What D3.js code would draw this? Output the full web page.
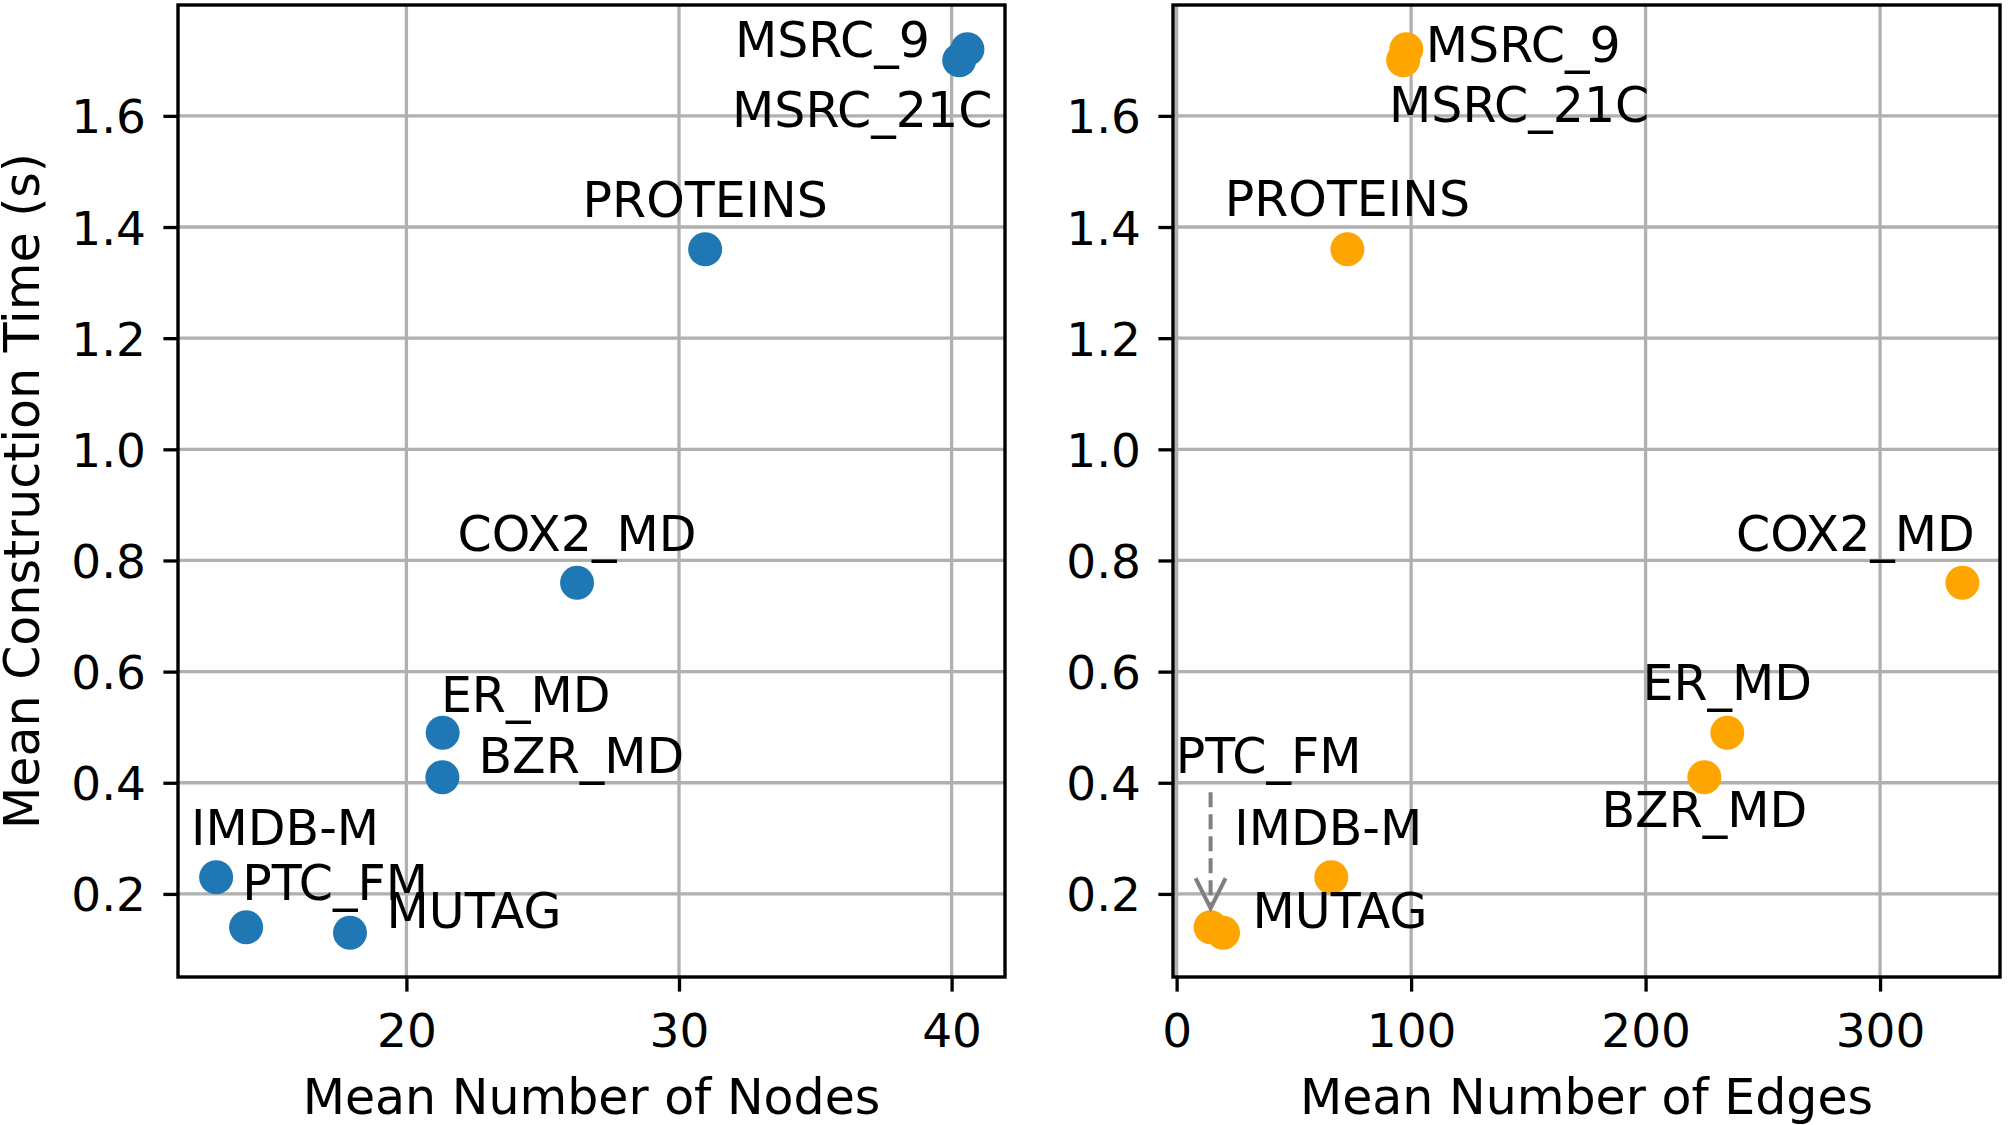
<!DOCTYPE html>
<html>
<head>
<meta charset="utf-8">
<script src="https://cdn.jsdelivr.net/npm/d3@7"></script>
<style>
    body { margin: 0; background: #fff; }
    svg { display: block; font-family: "DejaVu Sans", sans-serif; }
    .domain { display: none; }
</style>
</head>
<body>
<div id="chart"></div>
<script>
// data
var datasets = ["MSRC_9", "MSRC_21C", "PROTEINS", "COX2_MD", "ER_MD", "BZR_MD", "IMDB-M", "PTC_FM", "MUTAG"];
var meanNodes = [40.58, 40.28, 30.96, 26.26, 21.33, 21.32, 13.02, 14.12, 17.93];
var meanEdges = [97.94, 96.6, 72.82, 335.12, 234.85, 225.06, 65.94, 14.48, 19.79];
var meanTime = [1.72, 1.70, 1.36, 0.76, 0.49, 0.41, 0.23, 0.14, 0.13];

var timeTicks = [0.2, 0.4, 0.6, 0.8, 1.0, 1.2, 1.4, 1.6];
var nodeTicks = [20, 30, 40];
var edgeTicks = [0, 100, 200, 300];

// label placement (pixel offsets from the point, text centred)
var nodeLabelDx = [-135, -97, 0, 0, 83, 139, 69, 89, 124];
var nodeLabelDy = [8, 67, -32, -32, -21, -4, -32, -27, -5];
var edgeLabelDx = [117, 116, 0, -107, 0, 0, -3, 58, 117];
var edgeLabelDy = [13, 62, -33, -32, -33, 50, -32, -154, -5];

var width = 2008, height = 1125;
var plotTop = 5, plotBottom = 977;
var tickFont = 47, labelFont = 49;
var tickLen = 14.6, tickPad = 14.6;

var svg = d3.select("#chart").append("svg")
    .attr("width", width)
    .attr("height", height);

svg.append("rect").attr("width", width).attr("height", height).attr("fill", "#fff");

var y = d3.scaleLinear()
    .domain([0.0505, 1.7995])
    .range([plotBottom, plotTop]);

function drawPanel(opts) {
    var x = d3.scaleLinear().domain(opts.xDomain).range([opts.left, opts.right]);
    var g = svg.append("g");

    // grid
    g.selectAll(".vgrid").data(opts.xTicks).enter().append("line")
        .attr("x1", function (d) { return x(d); })
        .attr("x2", function (d) { return x(d); })
        .attr("y1", plotTop).attr("y2", plotBottom)
        .attr("stroke", "#b0b0b0").attr("stroke-width", 3.3);
    g.selectAll(".hgrid").data(timeTicks).enter().append("line")
        .attr("x1", opts.left).attr("x2", opts.right)
        .attr("y1", function (d) { return y(d); })
        .attr("y2", function (d) { return y(d); })
        .attr("stroke", "#b0b0b0").attr("stroke-width", 3.3);

    // axes
    var xAxis = g.append("g")
        .attr("transform", "translate(0," + plotBottom + ")")
        .call(d3.axisBottom(x).tickValues(opts.xTicks).tickSize(tickLen).tickPadding(tickPad).tickFormat(d3.format("d")));
    xAxis.selectAll("text")
        .attr("y", 0).attr("dy", 70)
        .attr("font-size", tickFont).attr("fill", "#000")
        .attr("font-family", "DejaVu Sans");

    var yAxis = g.append("g")
        .attr("transform", "translate(" + opts.left + ",0)")
        .call(d3.axisLeft(y).tickValues(timeTicks).tickSize(tickLen).tickPadding(tickPad).tickFormat(d3.format(".1f")));
    yAxis.selectAll("text")
        .attr("x", -32).attr("dy", 17)
        .attr("font-size", tickFont).attr("fill", "#000")
        .attr("font-family", "DejaVu Sans");

    g.selectAll(".tick line").attr("stroke", "#000").attr("stroke-width", 3.3);

    // points
    g.selectAll(".dot").data(datasets).enter().append("circle")
        .attr("cx", function (d, i) { return x(opts.xValues[i]); })
        .attr("cy", function (d, i) { return y(meanTime[i]); })
        .attr("r", 17)
        .attr("fill", opts.colour);

    // arrow for the moved label
    if (opts.arrowFor !== undefined) {
        var i = datasets.indexOf(opts.arrowFor);
        var px = x(opts.xValues[i]), py = y(meanTime[i]);
        var y0 = py + opts.labelDy[i] + 19, y1 = py - 19;
        g.append("line")
            .attr("x1", px).attr("x2", px)
            .attr("y1", y0).attr("y2", y1)
            .attr("stroke", "#808080").attr("stroke-width", 4)
            .attr("stroke-dasharray", "15,7");
        g.append("path")
            .attr("d", "M" + (px - 15) + "," + (y1 - 30) + "L" + px + "," + y1 + "L" + (px + 15) + "," + (y1 - 30))
            .attr("fill", "none")
            .attr("stroke", "#808080").attr("stroke-width", 4);
    }

    // labels
    g.selectAll(".lbl").data(datasets).enter().append("text")
        .attr("x", function (d, i) { return x(opts.xValues[i]) + opts.labelDx[i]; })
        .attr("y", function (d, i) { return y(meanTime[i]) + opts.labelDy[i]; })
        .attr("text-anchor", "middle")
        .attr("font-size", labelFont)
        .attr("fill", "#000")
        .text(function (d) { return d; });

    // frame
    g.append("rect")
        .attr("x", opts.left).attr("y", plotTop)
        .attr("width", opts.right - opts.left).attr("height", plotBottom - plotTop)
        .attr("fill", "none").attr("stroke", "#000").attr("stroke-width", 3.4);

    // x label
    g.append("text")
        .attr("x", (opts.left + opts.right) / 2)
        .attr("y", 1114)
        .attr("text-anchor", "middle")
        .attr("font-size", labelFont)
        .text(opts.xTitle);
}

drawPanel({
    left: 178, right: 1005,
    xDomain: [11.621, 41.959],
    xTicks: nodeTicks,
    xValues: meanNodes,
    labelDx: nodeLabelDx, labelDy: nodeLabelDy,
    colour: "#1f77b4",
    xTitle: "Mean Number of Nodes"
});

drawPanel({
    left: 1173, right: 2000,
    xDomain: [-1.55, 351.15],
    xTicks: edgeTicks,
    xValues: meanEdges,
    labelDx: edgeLabelDx, labelDy: edgeLabelDy,
    colour: "#ffa500",
    xTitle: "Mean Number of Edges",
    arrowFor: "PTC_FM"
});

// Y label
svg.append("text")
    .attr("transform", "translate(39," + ((plotTop + plotBottom) / 2) + ") rotate(-90)")
    .attr("text-anchor", "middle")
    .attr("font-size", labelFont)
    .text("Mean Construction Time (s)");
</script>
</body>
</html>
